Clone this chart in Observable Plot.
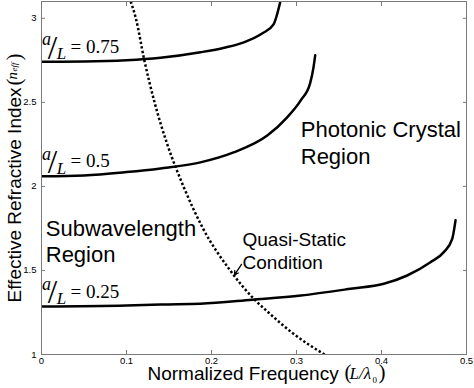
<!DOCTYPE html>
<html><head><meta charset="utf-8">
<script src="https://cdn.jsdelivr.net/npm/d3@7"></script>
<script src="https://cdn.jsdelivr.net/npm/@observablehq/plot@0.6"></script>
<style>body{margin:0;background:#fff}</style>
</head><body><div id="chart"></div>
<script>
// Curves: normalized frequency (L/λ0) vs effective refractive index
const freq075 = [0, 0.05, 0.1, 0.14, 0.187, 0.215, 0.238, 0.26, 0.273, 0.281];
const n075    = [2.742, 2.743, 2.75, 2.765, 2.798, 2.825, 2.857, 2.911, 2.964, 3.1];
const freq050 = [0, 0.05, 0.1, 0.14, 0.187, 0.226, 0.266, 0.289, 0.305, 0.316, 0.320, 0.322];
const n050    = [2.06, 2.065, 2.085, 2.107, 2.143, 2.202, 2.304, 2.411, 2.512, 2.613, 2.708, 2.78];
const freq025 = [0, 0.1, 0.14, 0.187, 0.248, 0.305, 0.3635, 0.4027, 0.4302, 0.4576, 0.4733, 0.4832, 0.4871];
const n025    = [1.286, 1.292, 1.298, 1.302, 1.326, 1.351, 1.391, 1.421, 1.470, 1.549, 1.609, 1.688, 1.798];
// Quasi-static condition (dotted)
const freqQS = [0.105, 0.111, 0.121, 0.133, 0.148, 0.167, 0.19, 0.222, 0.25, 0.267, 0.296, 0.333];
const nQS    = [3.1, 3.0, 2.75, 2.5, 2.25, 2.0, 1.75, 1.5, 1.33, 1.25, 1.125, 1.0];

const ratios = ["0.75", "0.5", "0.25"];
const xTicks = [0, 0.1, 0.2, 0.3, 0.4, 0.5];
const yTicks = [1, 1.5, 2, 2.5, 3];

const regionLabels = [
  {text: "Photonic Crystal\nRegion", x: 0.305, y: 2.265},
  {text: "Subwavelength\nRegion", x: 0.005, y: 1.679}
];
const qsLabel = [{text: "Quasi-Static\nCondition", x: 0.2365, y: 1.619}];
const qsArrow = [{x1: 0.2353, y1: 1.536, x2: 0.2271, y2: 1.474}];

const toPts = (xs, ys, ratio) => xs.map((x, i) => ({x, y: ys[i], ratio}));
const curves = [
  ...toPts(freq075, n075, ratios[0]),
  ...toPts(freq050, n050, ratios[1]),
  ...toPts(freq025, n025, ratios[2])
];
const qs = toPts(freqQS, nQS, "qs");
const starts = [
  {ratio: ratios[0], x: freq075[0], y: n075[0]},
  {ratio: ratios[1], x: freq050[0], y: n050[0]},
  {ratio: ratios[2], x: freq025[0], y: n025[0]}
];

const serif = "'Liberation Serif', 'Times New Roman', serif";
const sans = "'Liberation Sans', Arial, sans-serif";
const axisGray = "#7a7a7a";

const chart = Plot.plot({
  width: 474, height: 388,
  marginLeft: 41, marginRight: 8, marginTop: 1, marginBottom: 34,
  x: {domain: [0, 0.5], label: null},
  y: {domain: [1, 3.1], label: null},
  style: {fontFamily: sans, background: "#fff", color: "#000"},
  marks: [
    Plot.line(curves, {x: "x", y: "y", z: "ratio", curve: "monotone-x", stroke: "#000", strokeWidth: 2.5, clip: true}),
    Plot.line(qs, {x: "x", y: "y", curve: "monotone-x", stroke: "#000", strokeWidth: 2.5, strokeLinecap: "butt", strokeDasharray: "2.4,2.2", clip: true}),
    Plot.frame({stroke: axisGray}),
    Plot.axisX({ticks: xTicks, tickSize: -4, tickFormat: () => "", stroke: axisGray}),
    Plot.axisX({ticks: xTicks, anchor: "top", tickSize: -4, tickFormat: () => "", stroke: axisGray}),
    Plot.axisY({ticks: yTicks, tickSize: -4, tickFormat: () => "", stroke: axisGray}),
    Plot.axisY({ticks: yTicks, anchor: "right", tickSize: -4, tickFormat: () => "", stroke: axisGray}),
    Plot.axisX({ticks: xTicks, tickSize: 0, tickPadding: 3, tickFormat: "~g", fontSize: 9.5}),
    Plot.axisY({ticks: yTicks, tickSize: 0, tickPadding: 5, tickFormat: "~g", fontSize: 9.5}),
    // a/L = ratio labels
    Plot.text(starts, {x: "x", y: "y", text: () => "a", dx: 5, dy: -22, textAnchor: "middle", fontFamily: serif, fontStyle: "italic", fontSize: 18}),
    Plot.text(starts, {x: "x", y: "y", text: () => "/", dx: 11, dy: -14, textAnchor: "middle", fontFamily: serif, fontSize: 34}),
    Plot.text(starts, {x: "x", y: "y", text: () => "L", dx: 20, dy: -8, textAnchor: "middle", fontFamily: serif, fontStyle: "italic", fontSize: 17}),
    Plot.text(starts, {x: "x", y: "y", text: d => "= " + d.ratio, dx: 29, dy: -15, textAnchor: "start", fontFamily: serif, fontSize: 19}),
    // region labels
    Plot.text(regionLabels, {x: "x", y: "y", text: "text", textAnchor: "start", fontSize: 22, lineHeight: 1.2}),
    Plot.text(qsLabel, {x: "x", y: "y", text: "text", textAnchor: "start", fontSize: 19, lineHeight: 1.18}),
    Plot.arrow(qsArrow, {x1: "x1", y1: "y1", x2: "x2", y2: "y2", stroke: "#000", strokeWidth: 1.3, headLength: 6}),
    // x axis label
    Plot.text(["Normalized Frequency"], {frameAnchor: "bottom-left", dx: 106, dy: 25, textAnchor: "start", fontSize: 19}),
    Plot.text(["("], {frameAnchor: "bottom-left", dx: 303, dy: 24, textAnchor: "start", fontSize: 21, fontFamily: serif}),
    Plot.text(["L/λ"], {frameAnchor: "bottom-left", dx: 308, dy: 24, textAnchor: "start", fontSize: 17, fontFamily: serif, fontStyle: "italic"}),
    Plot.text(["0"], {frameAnchor: "bottom-left", dx: 331, dy: 28, textAnchor: "start", fontSize: 9, fontFamily: serif}),
    Plot.text([")"], {frameAnchor: "bottom-left", dx: 337, dy: 24, textAnchor: "start", fontSize: 21, fontFamily: serif}),
    // y axis label
    Plot.text(["Effective Refractive Index"], {frameAnchor: "top-left", dx: -34, dy: 301, rotate: -90, textAnchor: "start", fontSize: 19}),
    Plot.text(["("], {frameAnchor: "top-left", dx: -35, dy: 84, rotate: -90, textAnchor: "start", fontSize: 21, fontFamily: serif}),
    Plot.text(["n"], {frameAnchor: "top-left", dx: -35, dy: 78, rotate: -90, textAnchor: "start", fontSize: 15, fontFamily: serif, fontStyle: "italic"}),
    Plot.text(["eff"], {frameAnchor: "top-left", dx: -31, dy: 70, rotate: -90, textAnchor: "start", fontSize: 9, fontFamily: serif, fontStyle: "italic"}),
    Plot.text([")"], {frameAnchor: "top-left", dx: -35, dy: 59, rotate: -90, textAnchor: "start", fontSize: 21, fontFamily: serif})
  ]
});
document.getElementById("chart").appendChild(chart);
</script>
</body></html>
